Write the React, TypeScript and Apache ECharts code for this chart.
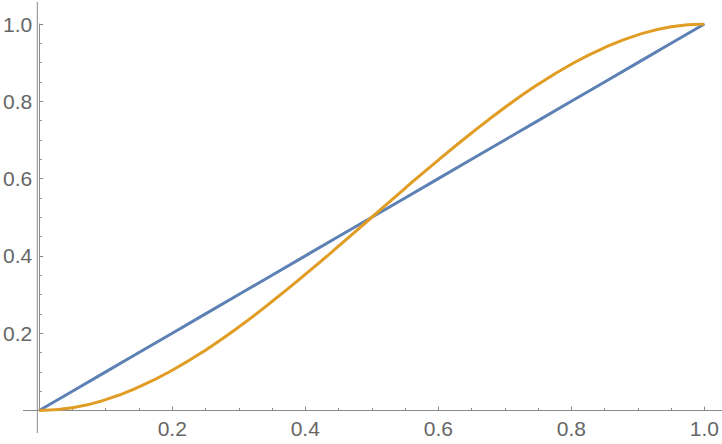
import React, { useEffect, useRef } from "react";
import * as echarts from "echarts";

const xValues = [0, 0.05, 0.1, 0.15, 0.2, 0.25, 0.3, 0.35, 0.4, 0.45, 0.5, 0.55, 0.6, 0.65, 0.7, 0.75, 0.8, 0.85, 0.9, 0.95, 1];
const blueValues = [0, 0.05, 0.1, 0.15, 0.2, 0.25, 0.3, 0.35, 0.4, 0.45, 0.5, 0.55, 0.6, 0.65, 0.7, 0.75, 0.8, 0.85, 0.9, 0.95, 1];
const orangeValues = [0, 0.007, 0.028, 0.061, 0.104, 0.156, 0.216, 0.282, 0.352, 0.425, 0.5, 0.575, 0.648, 0.718, 0.784, 0.844, 0.896, 0.939, 0.972, 0.993, 1];
const tickValues = [0.2, 0.4, 0.6, 0.8, 1.0];

const W = 722;
const H = 444;
const GRID = { left: 37.3, right: 15, top: 24, bottom: 33.5 };
const AXIS_COLOR = "#8a8a8a";
const LABEL_COLOR = "#666666";

export default function App() {
  const ref = useRef<HTMLDivElement>(null);
  useEffect(() => {
    if (!ref.current) return;
    const chart = echarts.init(ref.current, null, { renderer: "svg" });
    const fmt = (v: number) => (tickValues.some((t) => Math.abs(t - v) < 1e-9) ? v.toFixed(1) : "");
    const axisCommon = {
      type: "value" as const,
      min: 0,
      max: 1,
      interval: 0.2,
      axisLine: { show: true, lineStyle: { color: AXIS_COLOR, width: 1 } },
      axisTick: { show: true, inside: true, length: 4, lineStyle: { color: AXIS_COLOR, width: 1 } },
      minorTick: { show: true, splitNumber: 4, length: 2.5, lineStyle: { color: AXIS_COLOR, width: 1 } },
      splitLine: { show: false },
      minorSplitLine: { show: false },
    };
    const y0 = H - GRID.bottom;
    const x0 = GRID.left;
    chart.setOption({
      animation: false,
      grid: { ...GRID, containLabel: false },
      xAxis: {
        ...axisCommon,
        axisLabel: {
          showMinLabel: false,
          formatter: fmt,
          color: LABEL_COLOR,
          fontSize: 21,
          fontFamily: "Liberation Sans",
          margin: 7,
        },
      },
      yAxis: {
        ...axisCommon,
        axisLabel: {
          showMinLabel: false,
          formatter: fmt,
          color: LABEL_COLOR,
          fontSize: 21,
          fontFamily: "Liberation Sans",
          margin: 7,
        },
      },
      graphic: [
        { type: "line", silent: true, shape: { x1: 23, y1: y0, x2: W, y2: y0 }, style: { stroke: AXIS_COLOR, lineWidth: 1 } },
        { type: "line", silent: true, shape: { x1: x0, y1: 2, x2: x0, y2: 433 }, style: { stroke: AXIS_COLOR, lineWidth: 1 } },
      ],
      series: [
        {
          type: "line",
          data: xValues.map((x, i) => [x, blueValues[i]]),
          showSymbol: false,
          symbol: "none",
          lineStyle: { color: "#5e81b5", width: 3 },
          z: 3,
        },
        {
          type: "line",
          data: xValues.map((x, i) => [x, orangeValues[i]]),
          smooth: true,
          showSymbol: false,
          symbol: "none",
          lineStyle: { color: "#e19c24", width: 3 },
          z: 4,
        },
      ],
    });
    return () => chart.dispose();
  }, []);
  return (
    <div
      ref={ref}
      style={{ position: "absolute", left: 0, top: 0, width: W, height: H, background: "#fff" }}
    />
  );
}
